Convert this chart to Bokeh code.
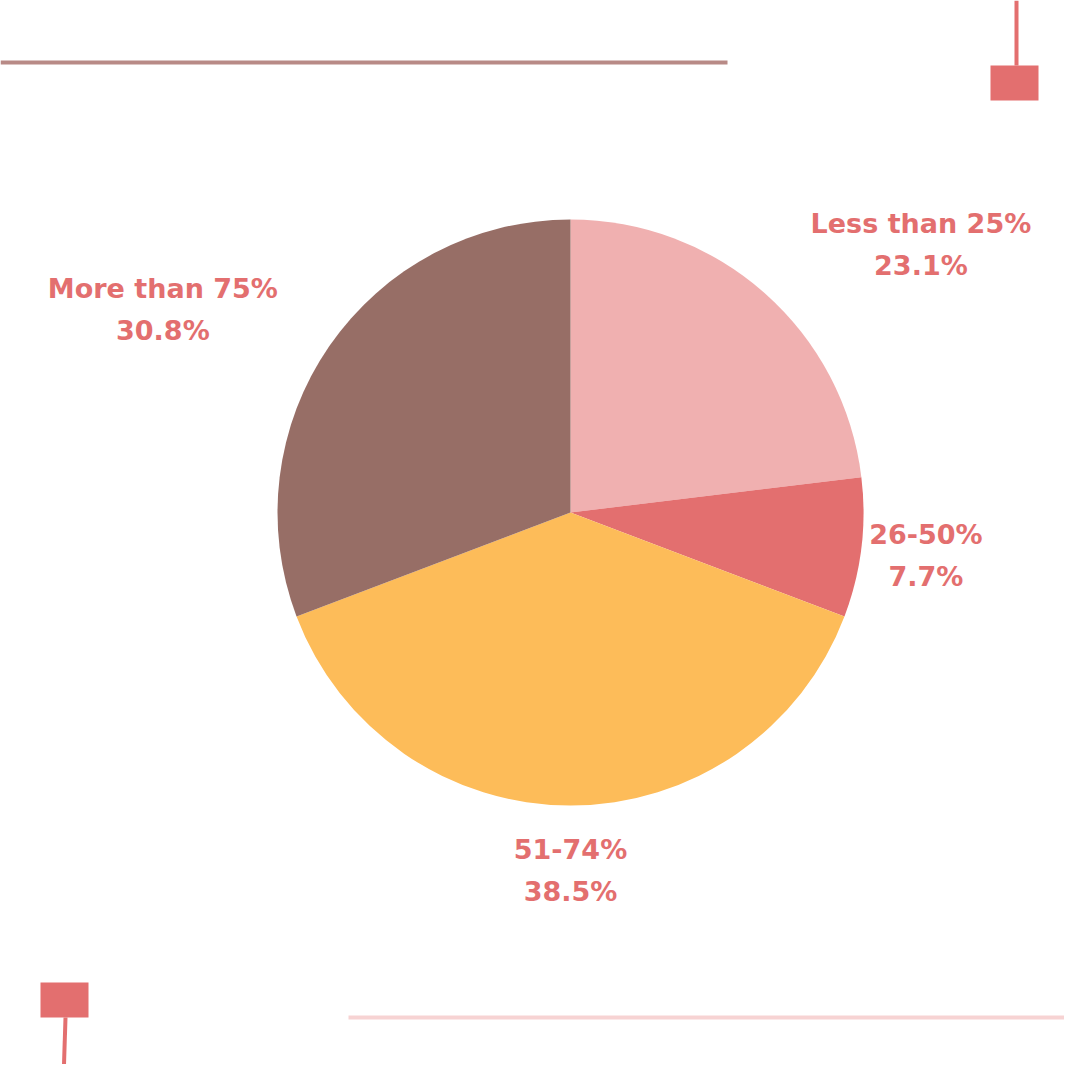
import math
from bokeh.plotting import figure
from bokeh.models import Range1d, ColumnDataSource
from bokeh.core.properties import value
from bokeh.embed import file_html
from bokeh.resources import INLINE

# ---- data ----
categories = ["Less than 25%", "26-50%", "51-74%", "More than 75%"]
counts = [3, 1, 5, 4]
colors = ["#F0B0B0", "#E36F6F", "#FDBC59", "#976E66"]

# ---- styling ----
label_shift = [113, 0, 0, -113]   # horizontal nudge (px) of each label block
LABEL_COLOR = "#E36F6F"
FONT = "DejaVu Sans"
FSIZE = "27px"

W = H = 1064
p = figure(width=W, height=H, output_backend="svg", toolbar_location=None,
           x_range=Range1d(0, 1064), y_range=Range1d(16, 1080), min_border=0,
           background_fill_color="white", border_fill_color="white")
p.axis.visible = False
p.grid.visible = False
p.outline_line_color = None

cx, cy, R = 570, 568, 293
total = sum(counts)
cum = 0
starts, ends, mids, pcts = [], [], [], []
for c in counts:
    s = 90 - 360 * cum / total
    cum += c
    e = 90 - 360 * cum / total
    starts.append(s)
    ends.append(e)
    mids.append((s + e) / 2)
    pcts.append(100 * c / total)

src = ColumnDataSource(dict(start=starts, end=ends, color=colors))
p.wedge(x=cx, y=cy, radius=R, start_angle="start", end_angle="end",
        start_angle_units="deg", end_angle_units="deg", direction="clock",
        fill_color="color", line_color=None, source=src)

# labels
LR = 358
for cat, m, pc, sh in zip(categories, mids, pcts, label_shift):
    x = cx + LR * math.cos(math.radians(m))
    y = cy + LR * math.sin(math.radians(m))
    p.text(x=[x], y=[y + 21], text=[cat], x_offset=sh, text_align="center",
           text_baseline="middle", text_font=value(FONT), text_font_style="bold",
           text_font_size=FSIZE, text_color=LABEL_COLOR)
    p.text(x=[x], y=[y - 21], text=[f"{pc:.1f}%"], x_offset=sh, text_align="center",
           text_baseline="middle", text_font=value(FONT), text_font_style="bold",
           text_font_size=FSIZE, text_color=LABEL_COLOR)

# ---- decorations (y = 1080 - page row) ----
p.segment(x0=[0], y0=[1018], x1=[727], y1=[1018], line_color="#B88A86", line_width=4)
p.segment(x0=[348], y0=[63], x1=[1080], y1=[63], line_color="#F7D3D3", line_width=4)
p.segment(x0=[1016], y0=[1080], x1=[1016], y1=[1015], line_color="#E36F6F", line_width=4)
p.quad(left=[990], right=[1038], top=[1015], bottom=[980], fill_color="#E36F6F", line_color=None)
p.quad(left=[40], right=[88], top=[98], bottom=[63], fill_color="#E36F6F", line_color=None)
p.segment(x0=[65], y0=[63], x1=[63], y1=[0], line_color="#E36F6F", line_width=4)

open("out.html", "w").write(file_html(p, INLINE))
